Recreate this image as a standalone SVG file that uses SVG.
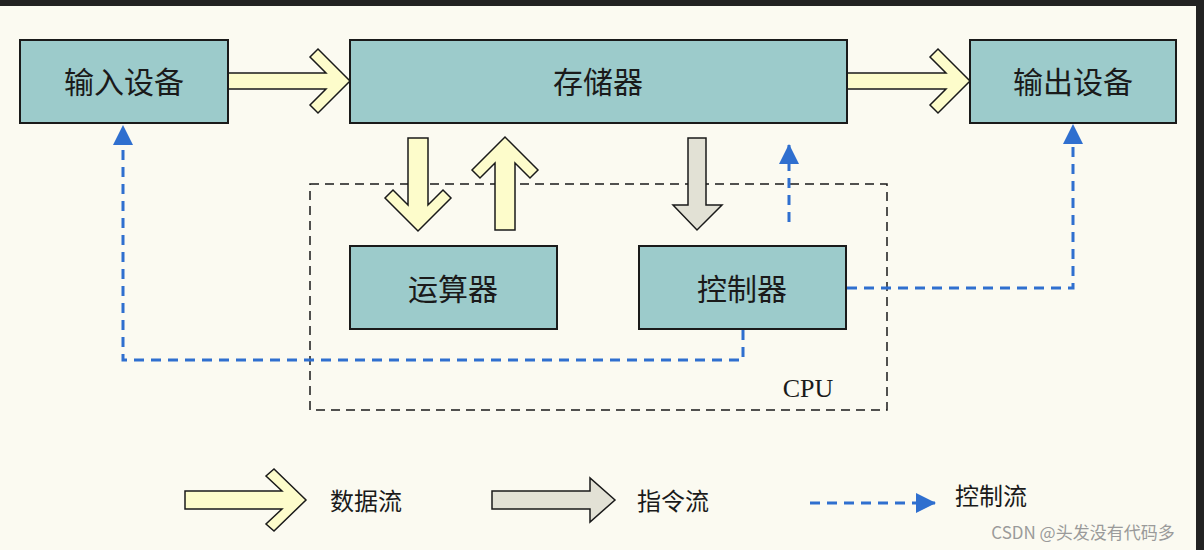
<svg xmlns="http://www.w3.org/2000/svg" width="1204" height="550" viewBox="0 0 1204 550">
<defs>
<style>
.box{fill:#9ccbcb;stroke:#1a1a1a;stroke-width:2}
.t{font-family:"Noto Sans CJK SC",sans-serif;font-size:30px;fill:#1a1a1a;text-anchor:middle;dominant-baseline:central}
.lg{font-family:"Noto Sans CJK SC",sans-serif;font-size:24px;fill:#1a1a1a;dominant-baseline:central}
.ya{fill:#fdfccb;stroke:#1a1a1a;stroke-width:1.5}
.ga{fill:#e2e1d5;stroke:#1a1a1a;stroke-width:1.5}
.bl{fill:none;stroke:#2f6fcf;stroke-width:3;stroke-dasharray:10,7}
</style>
<marker id="ah" markerWidth="10" markerHeight="10" refX="9" refY="5" orient="auto" markerUnits="userSpaceOnUse" viewBox="0 0 10 10"><path d="M0,0L10,5L0,10z" fill="#2f6fcf"/></marker>
<marker id="ahb" markerWidth="20" markerHeight="20" refX="19" refY="10" orient="auto" markerUnits="userSpaceOnUse" viewBox="0 0 20 20"><path d="M0,0L20,10L0,20z" fill="#2f6fcf"/></marker>
</defs>
<rect width="1204" height="550" fill="#fbfaf1"/>
<rect width="1204" height="6" fill="#222"/>
<rect x="1196" y="0" width="8" height="550" fill="#222"/>
<rect x="310" y="184" width="577" height="226" fill="none" stroke="#1a1a1a" stroke-width="1.5" stroke-dasharray="9,6"/>
<text x="808" y="388" font-family="Liberation Serif,serif" font-size="26" fill="#1a1a1a" text-anchor="middle" dominant-baseline="central">CPU</text>
<g id="connectors">
<polygon class="ya" points="228,73 326,73 310,57 318,49 350,81 318,113 310,105 326,89 228,89"/>
<polygon class="ya" points="847,73 946,73 930,57 938,49 970,81 938,113 930,105 946,89 847,89"/>
<polygon class="ya" points="408,138 428,138 428,205 443,190 451,198 418,231 385,198 393,190 408,205"/>
<polygon class="ya" points="495,230 515,230 515,163 530,178 538,170 505,137 472,170 480,178 495,163"/>
<polygon class="ga" points="688,138 706,138 706,205 722,205 697,230 673,205 688,205"/>
<path class="bl" d="M789,222V145" marker-end="url(#ahb)"/>
<path class="bl" d="M743,330V360H123V126" marker-end="url(#ahb)"/>
<path class="bl" d="M847,288H1073V125" marker-end="url(#ahb)"/>
</g>
<g id="n1"><rect class="box" x="20" y="40" width="208" height="83"/><text class="t" x="124" y="80">输入设备</text></g>
<g id="n2"><rect class="box" x="350" y="40" width="497" height="83"/><text class="t" x="598" y="80">存储器</text></g>
<g id="n3"><rect class="box" x="970" y="40" width="206" height="83"/><text class="t" x="1073" y="80">输出设备</text></g>
<g id="n4"><rect class="box" x="350" y="246" width="207" height="83"/><text class="t" x="453" y="287">运算器</text></g>
<g id="n5"><rect class="box" x="639" y="246" width="207" height="83"/><text class="t" x="742" y="287">控制器</text></g>
<g id="legend">
<polygon class="ya" points="185,491 282,491 266,476 274,469 306,500 274,531 266,524 282,509 185,509"/>
<text class="lg" x="330" y="499">数据流</text>
<polygon class="ga" points="492,491 590,491 590,478 615,500 590,522 590,509 492,509"/>
<text class="lg" x="637" y="499">指令流</text>
<path class="bl" d="M810,503H935" marker-end="url(#ahb)"/>
<text class="lg" x="955" y="494">控制流</text>
</g>
<text x="1083" y="531" font-family="Noto Sans CJK SC,sans-serif" font-size="17" fill="#9a9a9a" text-anchor="middle" dominant-baseline="central">CSDN @头发没有代码多</text>
</svg>
